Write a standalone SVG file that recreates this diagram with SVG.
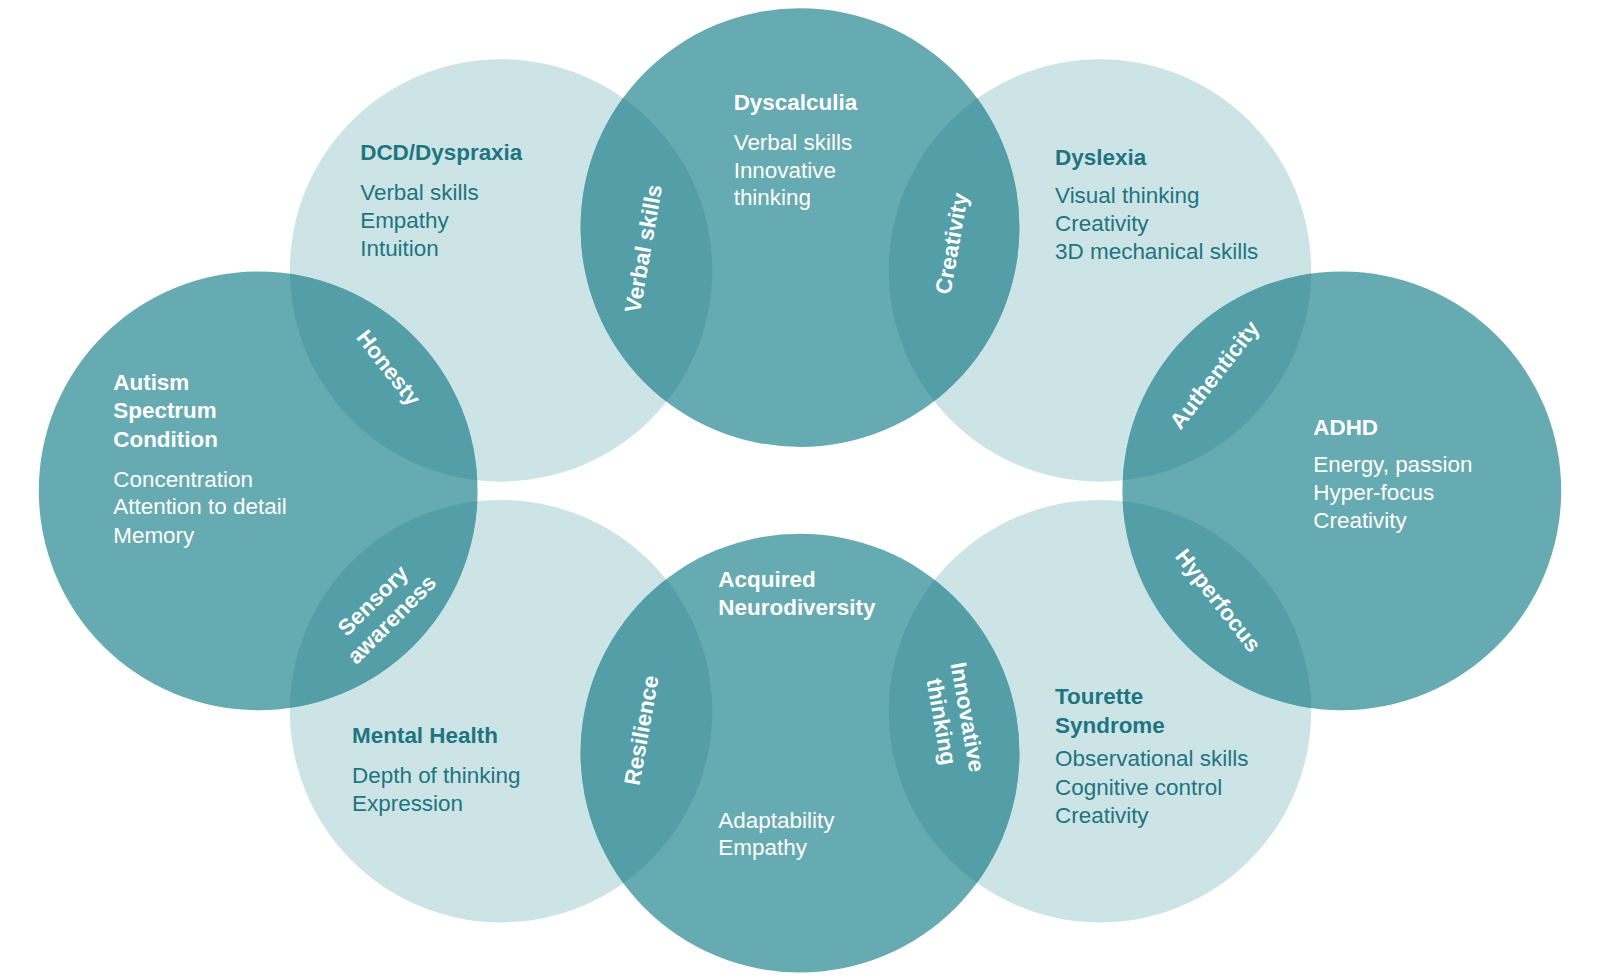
<svg xmlns="http://www.w3.org/2000/svg" width="1600" height="978" viewBox="0 0 1600 978">
<style>
.l{fill:#cde4e6}.d{fill:#66aab2}.o{fill:#539ea7}
text{font-family:"Liberation Sans",Arial,sans-serif;font-size:22px}
.h{font-weight:bold}.w{fill:#fff}.t{fill:#1d7580}
.c{font-weight:bold;fill:#fff;text-anchor:middle}
</style>
<defs>
<clipPath id="cDCD"><circle cx="491" cy="265" r="207"/></clipPath>
<clipPath id="cDYS"><circle cx="1078" cy="265" r="207"/></clipPath>
<clipPath id="cMH"><circle cx="491" cy="697" r="207"/></clipPath>
<clipPath id="cTS"><circle cx="1078" cy="697" r="207"/></clipPath>
</defs>
<rect width="1600" height="978" fill="#fff"/>
<g transform="scale(1.0204)">
<g id="light">
<circle class="l" cx="491" cy="265" r="207"/>
<circle class="l" cx="1078" cy="265" r="207"/>
<circle class="l" cx="491" cy="697" r="207"/>
<circle class="l" cx="1078" cy="697" r="207"/>
</g>
<g id="dark">
<circle class="d" cx="784" cy="223" r="215"/>
<circle class="d" cx="253" cy="481" r="215"/>
<circle class="d" cx="1315" cy="481" r="215"/>
<circle class="d" cx="784" cy="738" r="215"/>
</g>
<g id="connectors">
<g clip-path="url(#cDCD)"><circle class="o" cx="784" cy="223" r="215"/><circle class="o" cx="253" cy="481" r="215"/></g>
<g clip-path="url(#cDYS)"><circle class="o" cx="784" cy="223" r="215"/><circle class="o" cx="1315" cy="481" r="215"/></g>
<g clip-path="url(#cMH)"><circle class="o" cx="784" cy="738" r="215"/><circle class="o" cx="253" cy="481" r="215"/></g>
<g clip-path="url(#cTS)"><circle class="o" cx="784" cy="738" r="215"/><circle class="o" cx="1315" cy="481" r="215"/></g>
<text class="c" transform="translate(638,245) rotate(-80)">Verbal skills</text>
<text class="c" transform="translate(940,240) rotate(-80)">Creativity</text>
<text class="c" transform="translate(375,365) rotate(52)">Honesty</text>
<text class="c" transform="translate(375,598) rotate(-45)"><tspan x="0" y="-6">Sensory</tspan><tspan x="0" y="20">awareness</tspan></text>
<text class="c" transform="translate(1196,372) rotate(-52)">Authenticity</text>
<text class="c" transform="translate(1188,593) rotate(52)">Hyperfocus</text>
<text class="c" transform="translate(636,717) rotate(-80)">Resilience</text>
<text class="c" transform="translate(935,705) rotate(80)"><tspan x="0" y="-6">Innovative</tspan><tspan x="0" y="20">thinking</tspan></text>
</g>
<g id="dyscalculia"><text class="h w" x="719" y="108">Dyscalculia</text><text class="w" x="719" y="147">Verbal skills</text><text class="w" x="719" y="174">Innovative</text><text class="w" x="719" y="201">thinking</text></g>
<g id="dcd"><text class="h t" x="353" y="157">DCD/Dyspraxia</text><text class="t" x="353" y="196">Verbal skills</text><text class="t" x="353" y="223">Empathy</text><text class="t" x="353" y="251">Intuition</text></g>
<g id="dyslexia"><text class="h t" x="1034" y="162">Dyslexia</text><text class="t" x="1034" y="199">Visual thinking</text><text class="t" x="1034" y="226">Creativity</text><text class="t" x="1034" y="254">3D mechanical skills</text></g>
<g id="autism"><text class="h w" x="111" y="382">Autism</text><text class="h w" x="111" y="410">Spectrum</text><text class="h w" x="111" y="438">Condition</text><text class="w" x="111" y="477">Concentration</text><text class="w" x="111" y="504">Attention to detail</text><text class="w" x="111" y="532">Memory</text></g>
<g id="adhd"><text class="h w" x="1287" y="426">ADHD</text><text class="w" x="1287" y="463">Energy, passion</text><text class="w" x="1287" y="490">Hyper-focus</text><text class="w" x="1287" y="517">Creativity</text></g>
<g id="mental"><text class="h t" x="345" y="728">Mental Health</text><text class="t" x="345" y="767">Depth of thinking</text><text class="t" x="345" y="795">Expression</text></g>
<g id="acquired"><text class="h w" x="704" y="575">Acquired</text><text class="h w" x="704" y="603">Neurodiversity</text><text class="w" x="704" y="811">Adaptability</text><text class="w" x="704" y="838">Empathy</text></g>
<g id="tourette"><text class="h t" x="1034" y="690">Tourette</text><text class="h t" x="1034" y="718">Syndrome</text><text class="t" x="1034" y="751">Observational skills</text><text class="t" x="1034" y="779">Cognitive control</text><text class="t" x="1034" y="807">Creativity</text></g>
</g>
</svg>
